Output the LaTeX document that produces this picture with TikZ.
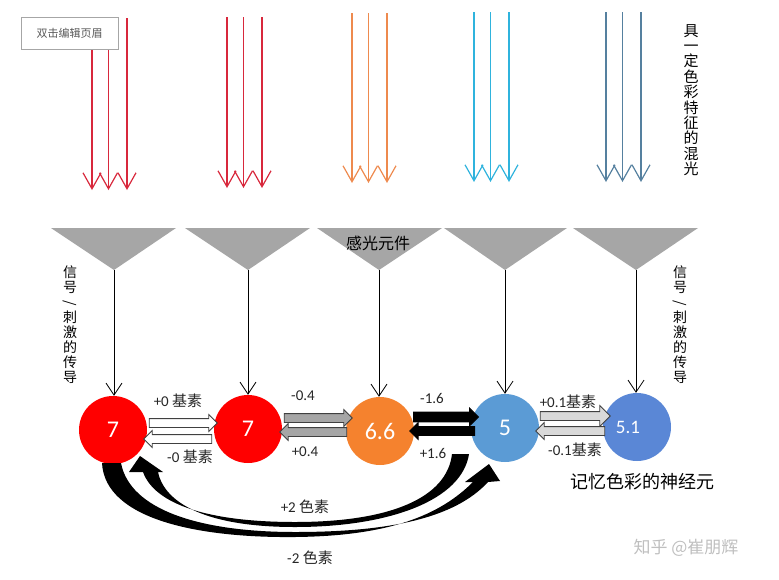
\documentclass[tikz,border=0pt]{standalone}
\usepackage{fontspec}
\setmainfont{Carlito}
\newfontfamily\cjk{Noto Sans CJK SC}
\usetikzlibrary{arrows.meta}
\usetikzlibrary{shapes.arrows}
\definecolor{rayred}{HTML}{D8283C}
\definecolor{rayorange}{HTML}{EE8A4E}
\definecolor{raycyan}{HTML}{2FB3DD}
\definecolor{rayblue}{HTML}{55809F}
\definecolor{neured}{HTML}{FF0000}
\definecolor{neuorange}{HTML}{F5822E}
\definecolor{neublue}{HTML}{5B9BD5}
\definecolor{neuindigo}{HTML}{5A87D6}

\begin{document}
\begin{tikzpicture}[x=1pt,y=-1pt,
  ray/.style={line width=1.2pt,-{Straight Barb[length=16pt,width=18pt]}},
  feed/.style={line width=.8pt,-{Straight Barb[length=12pt,width=16pt]}},
  neuron/.style={circle,minimum size=68pt,inner sep=0,text=white,font=\fontsize{24}{28}\selectfont},
  block/.style={single arrow,single arrow head extend=4pt,inner xsep=0,inner ysep=4pt,outer sep=0,draw=black!75,line width=.8pt},
  lbl/.style={font=\fontsize{15}{18}\selectfont,text=black!85},
  vtext/.style={align=center,inner sep=0,font=\cjk\fontsize{14}{15}\selectfont}]
\useasboundingbox (0,0) rectangle (779,579);
% light rays
\foreach \c/\x/\t/\b in {rayred/92/18/190, rayred/227/17/188, rayorange/352/13/183, raycyan/474/12/182, rayblue/606/12/182}
  \foreach \d in {0,16.5,35}
    \draw[ray,\c] (\x+\d,\t) -- (\x+\d,\b);
\node[draw=black!35,fill=white,minimum width=97pt,minimum height=32pt,inner sep=0,text=black!65,font=\cjk\fontsize{11}{13}\selectfont] (hdr) at (69.5,33) {双击编辑页眉};
\node[vtext,font=\cjk\fontsize{15}{15.4}\selectfont] (mix) at (691,100) {具\\一\\定\\色\\彩\\特\\征\\的\\混\\光};
% The sensors
\foreach \l/\r/\a [count=\i] in {51/176/114, 185/310/248, 317/442/379, 444/567/505, 573/698/636} {
  \fill[black!35] (\l,228) -- (\r,228) -- (\a,270) -- cycle;
  \coordinate (apex\i) at (\a,270);
}
\node[font=\cjk\fontsize{16}{18}\selectfont] (sens) at (378,243) {感光元件};
\node[vtext] (sigl) at (70,325) {信\\号\\\rotatebox[origin=c]{-90}{/}\\刺\\激\\的\\传\\导};
\node[vtext] (sigr) at (680,325) {信\\号\\\rotatebox[origin=c]{-90}{/}\\刺\\激\\的\\传\\导};
% The neurons
\node[neuron,fill=neured] (c1) at (113,430) {7};
\node[neuron,fill=neured] (c2) at (248,429) {7};
\node[neuron,fill=neuorange] (c3) at (380,431) {6.6};
\node[neuron,fill=neublue] (c4) at (505,428) {5};
\node[neuron,fill=neuindigo,font=\fontsize{19}{22}\selectfont] (c5) at (637,427) {5.1\kern18pt};
\foreach \i in {1,...,5}
  \draw[feed] (apex\i) -- (apex\i |- c\i.north);
% block arrows
%     1st pair
\node[block,fill=white,minimum height=68pt] (a12) at (181,423) {};
\node[block,fill=white,minimum height=68pt,shape border rotate=180] (a21) at (180,439) {};
%     2nd pair
\node[block,fill=black!35,minimum height=68pt] (a23) at (316,418) {};
\node[block,fill=black!35,minimum height=67pt,shape border rotate=180] (a32) at (315.5,432) {};
%     3rd pair
\node[block,fill=black,draw=black,minimum height=65pt,inner ysep=4.5pt] (a34) at (443.5,417) {};
\node[block,fill=black,draw=black,minimum height=65pt,inner ysep=4pt,shape border rotate=180] (a43) at (444.5,431) {};
%     4th pair
\node[block,fill=black!15,minimum height=70pt,single arrow head extend=6pt] (a45) at (573,416) {};
\node[block,fill=black!15,minimum height=69pt,shape border rotate=180] (a54) at (572.5,431) {};
\node[lbl] (l12) at (178,401) {+0 {\cjk 基素}};
\node[lbl] (l21) at (190,457) {-0 {\cjk 基素}};
\node[lbl] (l23) at (303,396) {-0.4};
\node[lbl] (l32) at (305,452) {+0.4};
\node[lbl] (l34) at (432,398) {-1.6};
\node[lbl] (l43) at (433,453) {+1.6};
\node[lbl] (l45) at (568,402) {+0.1{\cjk 基素}};
\node[lbl] (l54) at (575,450) {-0.1{\cjk 基素}};
% curved arrows
\fill[black] (102,463) .. controls (105,520) and (200,538) .. (295,537)
  .. controls (390,536) and (440,515) .. (473,482) -- (465,482) -- (489,464) -- (500,481) -- (488,482)
  .. controls (455,518) and (390,532) .. (295,532) .. controls (200,532) and (130,510) .. (121,463) -- cycle;
\fill[black] (469,454) .. controls (462,500) and (390,527) .. (295,527)
  .. controls (210,527) and (165,505) .. (158,472) -- (163,472) -- (140,456) -- (129,472) -- (143,472)
  .. controls (155,505) and (210,522) .. (295,522) .. controls (390,522) and (447,498) .. (452,454) -- cycle;
\node[lbl] (l14) at (305,507) {+2 {\cjk 色素}};
\node[lbl] (l41) at (310,558) {-2 {\cjk 色素}};
\node[font=\cjk\fontsize{18}{20}\selectfont] (mem) at (642,482) {记忆色彩的神经元};
\node[text=black!25,font=\cjk\fontsize{17}{20}\selectfont] (wm) at (686,548) {知乎 @崔朋辉};
\end{tikzpicture}
\end{document}
